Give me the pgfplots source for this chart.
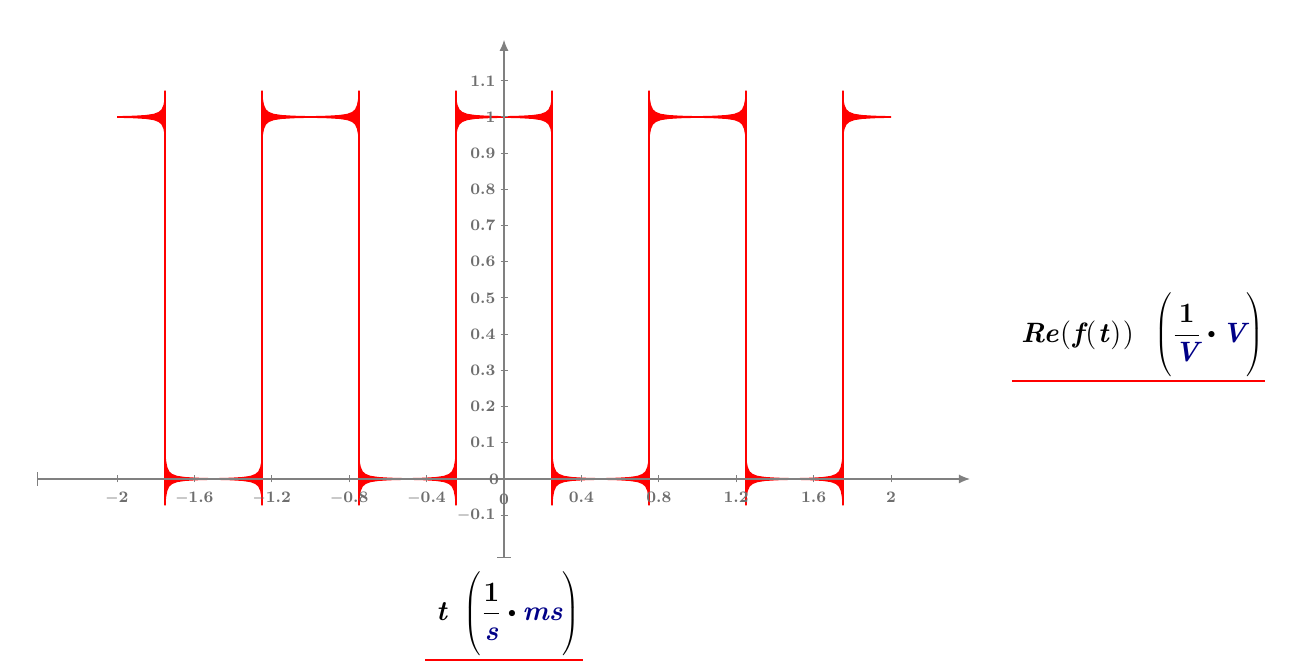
\documentclass[border=0pt]{standalone}
\usepackage{graphicx}
\usepackage{pgfplots}
\pgfplotsset{compat=1.18}
\usetikzlibrary{arrows.meta}
\definecolor{navyv}{RGB}{0,0,135}
\definecolor{axgray}{RGB}{128,128,128}
\definecolor{lblgray}{RGB}{110,110,110}
\newcommand{\bi}[1]{\mbox{\bfseries\itshape #1}}
\newcommand{\bdot}{\mathbin{\raisebox{1.7pt}{\scalebox{0.55}{$\bullet$}}}}
\newcommand{\tl}[1]{\textbf{#1}}
\begin{document}
\begin{tikzpicture}
\begin{axis}[
  x=96.75pt, y=181pt,
  axis lines=middle,
  axis on top,
  clip=false,
  xmin=-2.413, xmax=2.408,
  ymin=-0.218, ymax=1.213,
  xtick={-2,-1.6,-1.2,-0.8,-0.4,0.4,0.8,1.2,1.6,2},
  xticklabels={\tl{$-$2},\tl{$-$1.6},\tl{$-$1.2},\tl{$-$0.8},\tl{$-$0.4},\tl{0.4},\tl{0.8},\tl{1.2},\tl{1.6},\tl{2}},
  ytick={-0.1,0.1,0.2,0.3,0.4,0.5,0.6,0.7,0.8,0.9,1,1.1},
  yticklabels={\tl{$-$0.1},\tl{0.1},\tl{0.2},\tl{0.3},\tl{0.4},\tl{0.5},\tl{0.6},\tl{0.7},\tl{0.8},\tl{0.9},\tl{1},\tl{1.1}},
  axis line style={axgray, line width=0.6pt, -{Latex[length=5.5pt,width=4.5pt]}},
  tick style={axgray, line width=0.5pt},
  major tick length=3.5pt,
  tick align=center,
  ticklabel style={font=\fontsize{8}{9.5}\selectfont, text=lblgray},
  xticklabel style={yshift=-1pt},
  yticklabel style={xshift=1pt},
]
% ringing envelopes
\addplot[draw=none, fill=red, forget plot] coordinates {(-2,1.0023)(-1.91,1.0036)(-1.85,1.0056)(-1.81,1.0088)(-1.785,1.014)(-1.77,1.021)(-1.76,1.033)(-1.754,1.05)(-1.75,1.073)
 (-1.75,0.927)(-1.754,0.95)(-1.76,0.967)(-1.77,0.979)(-1.785,0.986)(-1.81,0.9912)(-1.85,0.9944)(-1.91,0.9964)(-2,0.9977)};
\addplot[draw=none, fill=red, forget plot] coordinates {(-1.75,0.073)(-1.746,0.05)(-1.74,0.033)(-1.73,0.021)(-1.715,0.014)(-1.69,0.0088)(-1.65,0.0056)(-1.59,0.0036)(-1.5,0.0023)(-1.41,0.0036)(-1.35,0.0056)(-1.31,0.0088)(-1.285,0.014)(-1.27,0.021)(-1.26,0.033)(-1.254,0.05)(-1.25,0.073)
 (-1.25,-0.073)(-1.254,-0.05)(-1.26,-0.033)(-1.27,-0.021)(-1.285,-0.014)(-1.31,-0.0088)(-1.35,-0.0056)(-1.41,-0.0036)(-1.5,-0.0023)(-1.59,-0.0036)(-1.65,-0.0056)(-1.69,-0.0088)(-1.715,-0.014)(-1.73,-0.021)(-1.74,-0.033)(-1.746,-0.05)(-1.75,-0.073)};
\addplot[draw=none, fill=red, forget plot] coordinates {(-1.25,1.073)(-1.246,1.05)(-1.24,1.033)(-1.23,1.021)(-1.215,1.014)(-1.19,1.0088)(-1.15,1.0056)(-1.09,1.0036)(-1,1.0023)(-0.91,1.0036)(-0.85,1.0056)(-0.81,1.0088)(-0.785,1.014)(-0.77,1.021)(-0.76,1.033)(-0.754,1.05)(-0.75,1.073)
 (-0.75,0.927)(-0.754,0.95)(-0.76,0.967)(-0.77,0.979)(-0.785,0.986)(-0.81,0.9912)(-0.85,0.9944)(-0.91,0.9964)(-1,0.9977)(-1.09,0.9964)(-1.15,0.9944)(-1.19,0.9912)(-1.215,0.986)(-1.23,0.979)(-1.24,0.967)(-1.246,0.95)(-1.25,0.927)};
\addplot[draw=none, fill=red, forget plot] coordinates {(-0.75,0.073)(-0.746,0.05)(-0.74,0.033)(-0.73,0.021)(-0.715,0.014)(-0.69,0.0088)(-0.65,0.0056)(-0.59,0.0036)(-0.5,0.0023)(-0.41,0.0036)(-0.35,0.0056)(-0.31,0.0088)(-0.285,0.014)(-0.27,0.021)(-0.26,0.033)(-0.254,0.05)(-0.25,0.073)
 (-0.25,-0.073)(-0.254,-0.05)(-0.26,-0.033)(-0.27,-0.021)(-0.285,-0.014)(-0.31,-0.0088)(-0.35,-0.0056)(-0.41,-0.0036)(-0.5,-0.0023)(-0.59,-0.0036)(-0.65,-0.0056)(-0.69,-0.0088)(-0.715,-0.014)(-0.73,-0.021)(-0.74,-0.033)(-0.746,-0.05)(-0.75,-0.073)};
\addplot[draw=none, fill=red, forget plot] coordinates {(-0.25,1.073)(-0.246,1.05)(-0.24,1.033)(-0.23,1.021)(-0.215,1.014)(-0.19,1.0088)(-0.15,1.0056)(-0.09,1.0036)(0,1.0023)(0.09,1.0036)(0.15,1.0056)(0.19,1.0088)(0.215,1.014)(0.23,1.021)(0.24,1.033)(0.246,1.05)(0.25,1.073)
 (0.25,0.927)(0.246,0.95)(0.24,0.967)(0.23,0.979)(0.215,0.986)(0.19,0.9912)(0.15,0.9944)(0.09,0.9964)(0,0.9977)(-0.09,0.9964)(-0.15,0.9944)(-0.19,0.9912)(-0.215,0.986)(-0.23,0.979)(-0.24,0.967)(-0.246,0.95)(-0.25,0.927)};
\addplot[draw=none, fill=red, forget plot] coordinates {(0.25,0.073)(0.254,0.05)(0.26,0.033)(0.27,0.021)(0.285,0.014)(0.31,0.0088)(0.35,0.0056)(0.41,0.0036)(0.5,0.0023)(0.59,0.0036)(0.65,0.0056)(0.69,0.0088)(0.715,0.014)(0.73,0.021)(0.74,0.033)(0.746,0.05)(0.75,0.073)
 (0.75,-0.073)(0.746,-0.05)(0.74,-0.033)(0.73,-0.021)(0.715,-0.014)(0.69,-0.0088)(0.65,-0.0056)(0.59,-0.0036)(0.5,-0.0023)(0.41,-0.0036)(0.35,-0.0056)(0.31,-0.0088)(0.285,-0.014)(0.27,-0.021)(0.26,-0.033)(0.254,-0.05)(0.25,-0.073)};
\addplot[draw=none, fill=red, forget plot] coordinates {(0.75,1.073)(0.754,1.05)(0.76,1.033)(0.77,1.021)(0.785,1.014)(0.81,1.0088)(0.85,1.0056)(0.91,1.0036)(1,1.0023)(1.09,1.0036)(1.15,1.0056)(1.19,1.0088)(1.215,1.014)(1.23,1.021)(1.24,1.033)(1.246,1.05)(1.25,1.073)
 (1.25,0.927)(1.246,0.95)(1.24,0.967)(1.23,0.979)(1.215,0.986)(1.19,0.9912)(1.15,0.9944)(1.09,0.9964)(1,0.9977)(0.91,0.9964)(0.85,0.9944)(0.81,0.9912)(0.785,0.986)(0.77,0.979)(0.76,0.967)(0.754,0.95)(0.75,0.927)};
\addplot[draw=none, fill=red, forget plot] coordinates {(1.25,0.073)(1.254,0.05)(1.26,0.033)(1.27,0.021)(1.285,0.014)(1.31,0.0088)(1.35,0.0056)(1.41,0.0036)(1.5,0.0023)(1.59,0.0036)(1.65,0.0056)(1.69,0.0088)(1.715,0.014)(1.73,0.021)(1.74,0.033)(1.746,0.05)(1.75,0.073)
 (1.75,-0.073)(1.746,-0.05)(1.74,-0.033)(1.73,-0.021)(1.715,-0.014)(1.69,-0.0088)(1.65,-0.0056)(1.59,-0.0036)(1.5,-0.0023)(1.41,-0.0036)(1.35,-0.0056)(1.31,-0.0088)(1.285,-0.014)(1.27,-0.021)(1.26,-0.033)(1.254,-0.05)(1.25,-0.073)};
\addplot[draw=none, fill=red, forget plot] coordinates {(1.75,1.073)(1.754,1.05)(1.76,1.033)(1.77,1.021)(1.785,1.014)(1.81,1.0088)(1.85,1.0056)(1.91,1.0036)(2,1.0023)
 (2,0.9977)(1.91,0.9964)(1.85,0.9944)(1.81,0.9912)(1.785,0.986)(1.77,0.979)(1.76,0.967)(1.754,0.95)(1.75,0.927)};
% main square wave
\addplot[red, line width=1pt, line join=bevel, forget plot] coordinates {
 (-2,1)(-1.75,1)(-1.75,1.073)(-1.75,-0.073)(-1.75,0)(-1.25,0)(-1.25,-0.073)(-1.25,1.073)(-1.25,1)
 (-0.75,1)(-0.75,1.073)(-0.75,-0.073)(-0.75,0)(-0.25,0)(-0.25,-0.073)(-0.25,1.073)(-0.25,1)
 (0.25,1)(0.25,1.073)(0.25,-0.073)(0.25,0)(0.75,0)(0.75,-0.073)(0.75,1.073)(0.75,1)
 (1.25,1)(1.25,1.073)(1.25,-0.073)(1.25,0)(1.75,0)(1.75,-0.073)(1.75,1.073)(1.75,1)(2,1)};
\coordinate (O) at (axis cs:0,0);
\coordinate (YL) at (axis cs:2.636,0.378);
\coordinate (YU1) at (axis cs:2.625,0.2707);
\coordinate (YU2) at (axis cs:3.933,0.2707);
\coordinate (XL) at (axis cs:-0.3876,-0.392);
\coordinate (XU1) at (axis cs:-0.408,-0.5);
\coordinate (XU2) at (axis cs:0.408,-0.5);
\coordinate (XE) at (axis cs:-2.413,0);
\coordinate (YE) at (axis cs:0,-0.218);
\coordinate (BL) at (axis cs:-2.6047,-0.5331);
\coordinate (TR) at (axis cs:4.155,1.3232);
\end{axis}
\draw[axgray, line width=0.5pt] ([yshift=-3.5pt]XE) -- ([yshift=3.5pt]XE);
\draw[axgray, line width=0.5pt] ([xshift=-3.5pt]YE) -- ([xshift=3.5pt]YE);
\node[font=\fontsize{8}{9.5}\selectfont, text=lblgray, anchor=north, yshift=-4pt] at (O) {\tl{0}};
\node[font=\fontsize{8}{9.5}\selectfont, text=lblgray, anchor=east, xshift=1pt] at (O) {\tl{0}};
\node[font=\fontsize{14}{17}\selectfont, anchor=base west] at (YL) {$\bi{Re}\mkern1mu(\mkern1mu\bi{f}\mkern1mu(\mkern1mu\bi{t}\mkern1mu)\mkern1mu)\kern8pt\left(\vrule height 19pt depth 19pt width 0pt\displaystyle\frac{\mbox{\bfseries 1}}{\bi{\color{navyv}V}}\bdot\bi{\color{navyv}V}\right)$};
\draw[red, line width=1pt] (YU1) -- (YU2);
\node[font=\fontsize{14}{17}\selectfont, anchor=base west] at (XL) {$\bi{t}\kern6pt\left(\vrule height 19pt depth 19pt width 0pt\displaystyle\frac{\mbox{\bfseries 1}}{\bi{\color{navyv}s}}\bdot\bi{\color{navyv}ms}\right)$};
\draw[red, line width=1pt] (XU1) -- (XU2);
\pgfresetboundingbox
\useasboundingbox (BL) rectangle (TR);
\end{tikzpicture}
\end{document}
